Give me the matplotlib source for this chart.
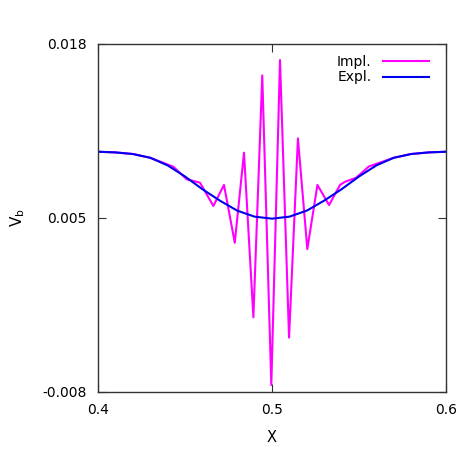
import matplotlib
matplotlib.use("Agg")
import matplotlib.pyplot as plt

# Explicit scheme: smooth dip
expl_x = [0.40, 0.41, 0.42, 0.43, 0.44, 0.45, 0.46, 0.47, 0.48, 0.49, 0.50,
          0.51, 0.52, 0.53, 0.54, 0.55, 0.56, 0.57, 0.58, 0.59, 0.60]
expl_v = [0.00995, 0.00990, 0.00978, 0.00950, 0.00893, 0.00810, 0.00715, 0.00630, 0.00555, 0.00510, 0.00495,
          0.00510, 0.00555, 0.00630, 0.00715, 0.00810, 0.00893, 0.00950, 0.00978, 0.00990, 0.00995]

# Implicit scheme: oscillates around the center
impl_x = [0.40, 0.41, 0.42, 0.43, 0.4433, 0.4510, 0.4586, 0.4663, 0.4724, 0.4786,
          0.4839, 0.4893, 0.4944, 0.4996, 0.5046, 0.5098, 0.5149, 0.5203, 0.5261,
          0.5328, 0.5391, 0.5420, 0.5483, 0.5557, 0.57, 0.58, 0.59, 0.60]
impl_v = [0.00995, 0.00990, 0.00978, 0.00950, 0.00883, 0.00789, 0.00764, 0.00590, 0.00747, 0.00315,
          0.00988, -0.00242, 0.01565, -0.00748, 0.01680, -0.00394, 0.01095, 0.00268, 0.00747,
          0.00597, 0.00747, 0.00771, 0.00800, 0.00885, 0.00950, 0.00978, 0.00990, 0.00995]

fig = plt.figure(figsize=(4.74, 4.74), dpi=100)
ax = fig.add_axes([0.2068, 0.173, 0.7341, 0.7342])

ax.plot(impl_x, impl_v, color="#ff00ff", lw=1.5, label="Impl.")
ax.plot(expl_x, expl_v, color="#0000ee", lw=1.5, label="Expl.")

ax.set_xlim(0.4, 0.6)
ax.set_ylim(-0.008, 0.018)
ax.set_xticks([0.4, 0.5, 0.6])
ax.set_xticklabels(["0.4", "0.5", "0.6"])
ax.set_yticks([-0.008, 0.005, 0.018])
ax.set_yticklabels(["-0.008", "0.005", "0.018"])
ax.tick_params(direction="in", length=5.5, width=0.8, top=True, right=True,
               labelsize=10, pad=8, color="#333333")
for s in ax.spines.values():
    s.set_color("#333333")
    s.set_linewidth(1.0)

ax.set_xlabel("X", fontsize=10.5, labelpad=9)
ax.set_ylabel("V$_\\mathregular{b}$", fontsize=11, labelpad=11)

ax.legend(loc="upper right", bbox_to_anchor=(0.982, 1.0), frameon=False,
          markerfirst=False, fontsize=10, handlelength=3.3, handletextpad=0.8,
          labelspacing=0.1, borderaxespad=0.4)

fig.savefig("out.png", dpi=100)
